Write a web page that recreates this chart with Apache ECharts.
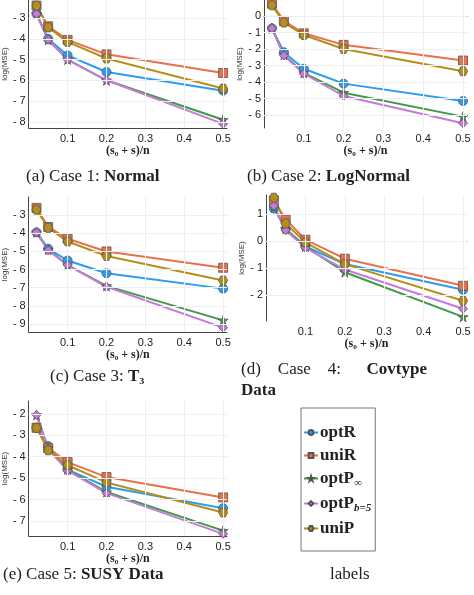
<!DOCTYPE html>
<html><head><meta charset="utf-8">
<script src="https://cdn.jsdelivr.net/npm/echarts@6/dist/echarts.min.js"></script>
<style>html,body{margin:0;background:#fff}#c{width:474px;height:595px}</style>
</head><body><div id="c"></div>
<script>
var xs = [0.02, 0.05, 0.1, 0.2, 0.5];
var names = ['optR', 'uniR', 'optP∞', 'optPb5', 'uniP'];
var colors = ['#2b9cf0', '#e8714b', '#3d9a45', '#c77ad8', '#b58f1c'];
var star = 'path://M50,0 L61,35 L98,35 L68,57 L79,92 L50,70 L21,92 L32,57 L2,35 L39,35 Z';
var hex = 'path://M25,0 L75,0 L100,50 L75,100 L25,100 L0,50 Z';
var symbols = ['circle', 'rect', star, 'diamond', hex];

// a: Normal
var aOptR = [-2.8, -4.0, -4.8, -5.6, -6.5];
var aUniR = [-2.4, -3.4, -4.05, -4.75, -5.65];
var aOptPinf = [-2.8, -4.05, -5.0, -6.0, -7.9];
var aOptPb5 = [-2.8, -4.05, -5.0, -6.0, -8.1];
var aUniP = [-2.4, -3.45, -4.15, -4.95, -6.4];
// b: LogNormal
var bOptR = [-0.75, -2.2, -3.2, -4.1, -5.15];
var bUniR = [0.75, -0.3, -1.05, -1.75, -2.7];
var bOptPinf = [-0.75, -2.35, -3.45, -4.65, -6.1];
var bOptPb5 = [-0.75, -2.4, -3.5, -4.85, -6.5];
var bUniP = [0.65, -0.4, -1.15, -2.0, -3.35];
// c: T3
var cOptR = [-3.95, -4.85, -5.5, -6.2, -7.05];
var cUniR = [-2.6, -3.65, -4.3, -5.0, -5.9];
var cOptPinf = [-3.95, -4.9, -5.75, -6.9, -8.8];
var cOptPb5 = [-3.95, -4.95, -5.75, -6.95, -9.2];
var cUniP = [-2.7, -3.7, -4.45, -5.25, -6.6];
// d: Covtype
var dOptR = [1.2, 0.45, -0.2, -0.85, -1.8];
var dUniR = [1.5, 0.8, 0.05, -0.65, -1.65];
var dOptPinf = [1.25, 0.45, -0.2, -1.15, -2.8];
var dOptPb5 = [1.3, 0.4, -0.25, -1.05, -2.5];
var dUniP = [1.6, 0.65, -0.05, -0.85, -2.2];
// e: SUSY
var eOptR = [-2.65, -3.5, -4.6, -5.4, -6.4];
var eUniR = [-2.65, -3.6, -4.25, -4.95, -5.9];
var eOptPinf = [-2.05, -3.6, -4.6, -5.65, -7.45];
var eOptPb5 = [-2.05, -3.65, -4.65, -5.7, -7.6];
var eUniP = [-2.65, -3.7, -4.4, -5.2, -6.6];

var xTicks = [0.1, 0.2, 0.3, 0.4, 0.5];
var panels = [
  {grid: {left: 22, top: 0, width: 205, height: 128}, y: [-8.3, -2.13], yt: [-8, -7, -6, -5, -4, -3], d: [aOptR, aUniR, aOptPinf, aOptPb5, aUniP]},
  {grid: {left: 264, top: 0, width: 203, height: 128}, y: [-6.79, 0.97], yt: [-6, -5, -4, -3, -2, -1, 0], d: [bOptR, bUniR, bOptPinf, bOptPb5, bUniP]},
  {grid: {left: 22, top: 197, width: 205, height: 135}, y: [-9.44, -2.0], yt: [-9, -8, -7, -6, -5, -4, -3], d: [cOptR, cUniR, cOptPinf, cOptPb5, cUniP]},
  {grid: {left: 266, top: 195, width: 201, height: 126}, y: [-2.95, 1.7], yt: [-2, -1, 0, 1], d: [dOptR, dUniR, dOptPinf, dOptPb5, dUniP]},
  {grid: {left: 22, top: 401, width: 205, height: 135}, y: [-7.7, -1.4], yt: [-7, -6, -5, -4, -3, -2], d: [eOptR, eUniR, eOptPinf, eOptPb5, eUniP]}
];

function yfmt(v) { return v < 0 ? '- ' + (-v) : '' + v; }
var grids = [], xAxes = [], yAxes = [], series = [];
panels.forEach(function (p, k) {
  grids.push(p.grid);
  xAxes.push({
    type: 'value', gridIndex: k, min: 0, max: 0.51,
    name: '(s₀ + s)/n', nameLocation: 'middle', nameGap: 17,
    nameTextStyle: {fontFamily: 'Liberation Serif', fontWeight: 'bold', fontSize: 12, color: '#222'},
    axisLine: {lineStyle: {color: '#444'}},
    axisTick: {show: false},
    axisLabel: {customValues: xTicks, fontSize: 11, color: '#222', margin: 5, fontFamily: 'Liberation Sans'},
    splitLine: {show: false}
  });
  yAxes.push({
    type: 'value', gridIndex: k, min: p.y[0], max: p.y[1],
    name: 'log(MSE)', nameLocation: 'middle', nameGap: 15,
    nameTextStyle: {fontSize: 8, color: '#333'},
    axisLine: {show: true, lineStyle: {color: '#444'}},
    axisTick: {show: false},
    axisLabel: {customValues: p.yt, formatter: yfmt, fontSize: 11, color: '#222', margin: 3, fontFamily: 'Liberation Sans'},
    splitLine: {show: false}
  });
  // faint grid lines
  series.push({
    type: 'line', xAxisIndex: k, yAxisIndex: k, data: [], silent: true,
    markLine: {silent: true, symbol: 'none', label: {show: false},
      lineStyle: {color: '#efefef', type: 'solid', width: 1},
      data: xTicks.map(function (v) { return {xAxis: v}; }).concat(p.yt.map(function (v) { return {yAxis: v}; }))}
  });
  p.d.forEach(function (vals, i) {
    series.push({
      name: names[i], type: 'line', xAxisIndex: k, yAxisIndex: k,
      data: xs.map(function (x, j) { return [x, vals[j]]; }),
      symbol: symbols[i], symbolSize: i === 2 ? 10 : 9,
      lineStyle: {color: colors[i], width: 2},
      itemStyle: {color: colors[i], borderColor: '#555', borderWidth: 0.8}
    });
  });
});

var serif = 'Liberation Serif';
var option = {
  animation: false,
  color: colors,
  grid: grids, xAxis: xAxes, yAxis: yAxes, series: series,
  legend: {
    orient: 'vertical', left: 301, top: 408, width: 92, height: 140,
    padding: [16, 4, 14, 2], itemGap: 6,
    borderColor: '#777', borderWidth: 1,
    itemWidth: 14, itemHeight: 6,
    data: names,
    formatter: function (n) {
      if (n === 'optP∞') return 'optP{s|∞}';
      if (n === 'optPb5') return 'optP{s|b=5}';
      return n;
    },
    textStyle: {fontFamily: serif, fontWeight: 'bold', fontSize: 17, color: '#222', padding: [0, 0, 0, -3],
      rich: {s: {fontFamily: serif, fontStyle: 'italic', fontSize: 11, verticalAlign: 'bottom', padding: [10, 0, 0, 0], color: '#222'}}}
  },
  graphic: [
    cap(26, 168, '(a) Case 1: ', 'Normal'),
    cap(247, 168, '(b) Case 2: ', 'LogNormal'),
    cap(50, 368, '(c) Case 3: ', 'T₃'),
    {type: 'text', left: 241, top: 361, style: {text: '(d)    Case    4:      {b|Covtype}', font: '17px ' + serif, fill: '#222',
      rich: {b: {fontFamily: serif, fontWeight: 'bold', fontSize: 17}}}},
    {type: 'text', left: 241, top: 382, style: {text: 'Data', font: 'bold 17px ' + serif, fill: '#222'}},
    cap(3, 566, '(e) Case 5: ', 'SUSY Data'),
    {type: 'text', left: 330, top: 566, style: {text: 'labels', font: '17px ' + serif, fill: '#222'}}
  ]
};
function cap(x, y, a, b) {
  return {type: 'text', left: x, top: y, style: {text: a + '{b|' + b + '}', font: '17px ' + serif, fill: '#222',
    rich: {b: {fontFamily: serif, fontWeight: 'bold', fontSize: 17}}}};
}
echarts.init(document.getElementById('c')).setOption(option);
</script></body></html>
